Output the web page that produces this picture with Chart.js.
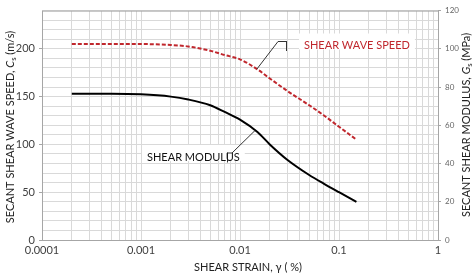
<!DOCTYPE html>
<html>
<head>
<meta charset="utf-8">
<script src="https://cdn.jsdelivr.net/npm/chart.js@4"></script>
<style>
  html, body { margin: 0; padding: 0; background: #fff; }
  #wrap { width: 474px; height: 275px; }
</style>
</head>
<body>
<div id="wrap"><canvas id="chart"></canvas></div>
<script>
// shear strain (%) at which both curves were read
const strain = [0.0002, 0.0005, 0.001, 0.002, 0.003, 0.005, 0.007, 0.01, 0.015, 0.02, 0.03, 0.05, 0.07, 0.1, 0.15];
// secant shear wave speed, m/s (left axis)
const waveSpeed = [205, 205, 205, 204, 202.5, 198, 193.5, 189, 178.5, 169, 156, 141, 130.5, 118.5, 105];
// secant shear modulus, MPa (right axis)
const modulus = [76.5, 76.5, 76.2, 75, 73.5, 70.5, 67, 63, 56.5, 50, 42, 34, 29.5, 25, 20];
const xTicks = [0.0001, 0.001, 0.01, 0.1, 1];

const FONT = "Lato";
const RED = "#c0272d";

function pts(ys) {
  return strain.map((s, i) => ({ x: s, y: ys[i] }));
}

// pin the plot area to where it sits in the picture
function fixSize(w, h) {
  return function (scale) {
    if (w != null) scale.width = w;
    if (h != null) scale.height = h;
  };
}

// axis titles with italic symbol + subscript, and the two leader-line labels
const decorations = {
  id: "decorations",
  afterDraw(chart) {
    const ctx = chart.ctx;
    const area = chart.chartArea;
    const x = chart.scales.x;
    const yl = chart.scales.y;
    const yr = chart.scales.y2;

    // plot frame
    ctx.save();
    ctx.strokeStyle = "#a6a6a6";
    ctx.lineWidth = 1;
    ctx.strokeRect(area.left + 0.5, area.top + 0.5, area.right - area.left, area.bottom - area.top);
    ctx.restore();

    function titleParts(parts, size) {
      let w = 0;
      parts.forEach(p => {
        ctx.font = (p.italic ? "italic " : "") + (p.sub ? size * 0.7 : size) + "px " + FONT;
        p.w = ctx.measureText(p.t).width;
        w += p.w;
      });
      return w;
    }
    function drawParts(parts, size, cx, cy, rot) {
      ctx.save();
      ctx.translate(cx, cy);
      ctx.rotate(rot);
      const w = titleParts(parts, size);
      let px = -w / 2;
      ctx.fillStyle = "#222";
      ctx.textBaseline = "middle";
      parts.forEach(p => {
        ctx.font = (p.italic ? "italic " : "") + (p.sub ? size * 0.7 : size) + "px " + FONT;
        ctx.fillText(p.t, px, p.sub ? size * 0.3 : 0);
        px += p.w;
      });
      ctx.restore();
    }

    drawParts([
      { t: "SECANT SHEAR WAVE SPEED, " },
      { t: "C", italic: true },
      { t: "s", sub: true },
      { t: " (m/s)" }
    ], 11, 10, 127, -Math.PI / 2);

    drawParts([
      { t: "SECANT SHEAR MODULUS, " },
      { t: "G", italic: true },
      { t: "s", sub: true },
      { t: " (MPa)" }
    ], 11, 466, 125, -Math.PI / 2);

    drawParts([{ t: "SHEAR STRAIN, \u03b3 ( %)" }], 11, (area.left + area.right) / 2 + 8, 267, 0);

    // leader label helper: point on curve -> elbow -> bracket, then text in white box
    function leader(sx, sy, ex, ey, bx, text, tx, color, side) {
      const ax = x.getPixelForValue(sx);
      const ay = side === "l" ? yl.getPixelForValue(sy) : yr.getPixelForValue(sy);
      ctx.save();
      ctx.font = "11px " + FONT;
      const tw = ctx.measureText(text).width;
      ctx.fillStyle = "#fff";
      ctx.fillRect(tx - 5, ey - 8, tw + 10, 16);
      ctx.strokeStyle = "#333";
      ctx.lineWidth = 1;
      ctx.beginPath();
      ctx.moveTo(ax, ay);
      ctx.lineTo(ex, ey);
      ctx.lineTo(bx, ey);
      ctx.moveTo(bx + 0.5, ey - 0.5);
      ctx.lineTo(bx + 0.5, ey + 9.5);
      ctx.stroke();
      ctx.fillStyle = color;
      ctx.textBaseline = "middle";
      ctx.fillText(text, tx, ey + 4);
      ctx.restore();
    }
    leader(0.0148, 178.8, 278, 41.5, 286, "SHEAR WAVE SPEED", 304, RED, "l");
    leader(0.0142, 57.3, 232, 153, 227, "SHEAR MODULUS", 147, "#111", "r");
  }
};

new Chart(document.getElementById("chart"), {
  type: "line",
  data: {
    datasets: [
      {
        label: "Shear wave speed",
        data: pts(waveSpeed),
        yAxisID: "y",
        borderColor: RED,
        borderWidth: 2,
        borderDash: [4, 2],
        pointRadius: 0,
        cubicInterpolationMode: "monotone",
        fill: false
      },
      {
        label: "Shear modulus",
        data: pts(modulus),
        yAxisID: "y2",
        borderColor: "#000",
        borderWidth: 2,
        pointRadius: 0,
        cubicInterpolationMode: "monotone",
        fill: false
      }
    ]
  },
  options: {
    responsive: true,
    maintainAspectRatio: false,
    animation: false,
    layout: { padding: { top: 4, left: 0, right: 0, bottom: 0 } },
    plugins: {
      legend: { display: false },
      tooltip: { enabled: false }
    },
    scales: {
      x: {
        type: "logarithmic",
        min: 0.0001,
        max: 1,
        afterFit: fixSize(null, 35),
        afterBuildTicks: function (scale) {
          const t = [];
          for (let e = -4; e <= 0; e++) {
            for (let m = 1; m <= 9; m++) {
              const v = m * Math.pow(10, e);
              if (v <= 1) t.push({ value: v });
            }
          }
          scale.ticks = t;
        },
        ticks: {
          autoSkip: false,
          maxRotation: 0,
          color: "#404040",
          font: { family: FONT, size: 11 },
          padding: 4,
          callback: function (v) {
            return xTicks.includes(v) ? String(v) : "";
          }
        },
        grid: { color: "#d9d9d9", lineWidth: 1, drawTicks: false },
        border: { display: false }
      },
      y: {
        position: "left",
        min: 0,
        max: 240,
        afterFit: fixSize(42, null),
        ticks: {
          stepSize: 10,
          autoSkip: false,
          color: "#404040",
          font: { family: FONT, size: 11 },
          padding: 4,
          callback: function (v) {
            return v % 50 === 0 && v <= 200 ? String(v) : "";
          }
        },
        grid: {
          color: "#d9d9d9",
          lineWidth: 1,
          tickLength: 3,
          tickColor: function (c) {
            return c.tick && c.tick.value % 50 === 0 && c.tick.value <= 200 ? "#a6a6a6" : "rgba(0,0,0,0)";
          }
        },
        border: { display: false }
      },
      y2: {
        position: "right",
        min: 0,
        max: 120,
        afterFit: fixSize(36, null),
        ticks: {
          stepSize: 20,
          color: "#666",
          font: { family: FONT, size: 8 },
          padding: 4
        },
        grid: { drawOnChartArea: false, tickLength: 3, tickColor: "#a6a6a6" },
        border: { display: false }
      }
    }
  },
  plugins: [decorations]
});
</script>
</body>
</html>
